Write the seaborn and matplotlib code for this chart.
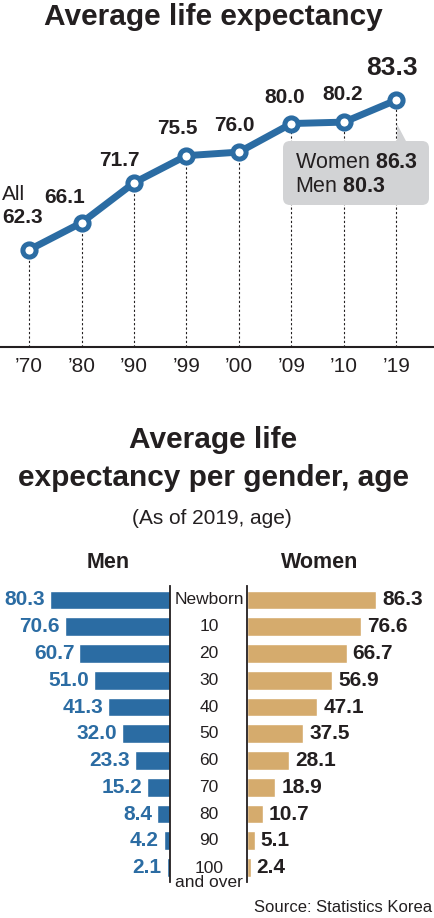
import numpy as np
import pandas as pd
import seaborn as sns
import matplotlib.pyplot as plt
from matplotlib.patches import FancyBboxPatch, Polygon

# ---------------- data ----------------
years = ["\u201970", "\u201980", "\u201990", "\u201999", "\u201900", "\u201909", "\u201910", "\u201919"]
life_all = [62.3, 66.1, 71.7, 75.5, 76.0, 80.0, 80.2, 83.3]
women_2019 = 86.3
men_2019 = 80.3

age_groups = ["Newborn", "10", "20", "30", "40", "50", "60", "70", "80", "90", "100\nand over"]
men = [80.3, 70.6, 60.7, 51.0, 41.3, 32.0, 23.3, 15.2, 8.4, 4.2, 2.1]
women = [86.3, 76.6, 66.7, 56.9, 47.1, 37.5, 28.1, 18.9, 10.7, 5.1, 2.4]

# ---------------- style ----------------
sns.set_theme(style="white")
FONT = ["Liberation Sans", "DejaVu Sans"]
plt.rcParams["font.family"] = FONT
plt.rcParams["mathtext.fontset"] = "custom"
plt.rcParams["mathtext.rm"] = "Liberation Sans"
plt.rcParams["mathtext.bf"] = "Liberation Sans:bold"

BLUE = "#2b6ca3"
TAN = "#d5ab6d"
DARK = "#231f20"
GRAY = "#d2d3d5"

W, H = 434, 918
fig = plt.figure(figsize=(W / 100, H / 100), dpi=100)
fig.patch.set_facecolor("white")


def px_axes(x0, y0, x1, y1, **kw):
    return fig.add_axes([x0 / W, 1 - y1 / H, (x1 - x0) / W, (y1 - y0) / H], **kw)


# ---------------- top line chart ----------------
ax = px_axes(0, 60, 434, 347)
df_line = pd.DataFrame({"idx": np.arange(len(years)), "life": life_all})
step = 52.5
ax.set_xlim(-29 / step, (434 - 29) / step)
ymin, ymax = 48.7, 88.9
ax.set_ylim(ymin, ymax)

ax.vlines(df_line["idx"], ymin, df_line["life"], colors=DARK, linewidth=0.8,
          linestyles=(0, (2, 2)), zorder=1)
sns.lineplot(data=df_line, x="idx", y="life", ax=ax, color=BLUE, linewidth=5,
             marker="o", markersize=9.5, markerfacecolor="white",
             markeredgecolor=BLUE, markeredgewidth=3.6, zorder=3)

ax.set_xticks(df_line["idx"])
ax.set_xticklabels(years, fontsize=15, color=DARK)
ax.tick_params(axis="x", length=0, pad=7)
ax.set_yticks([])
ax.set_xlabel("")
ax.set_ylabel("")
for s in ["top", "left", "right"]:
    ax.spines[s].set_visible(False)
ax.spines["bottom"].set_color(DARK)
ax.spines["bottom"].set_linewidth(1.5)
ax.patch.set_alpha(0)

offsets = [(-27, 32), (-17, 25), (-15, 22), (-9, 27), (-5, 27), (-7, 26), (-1, 28), (-5, 32)]
for i, (v, off) in enumerate(zip(life_all, offsets)):
    if i == 0:
        ax.annotate(f"{v:.1f}", (i, v), xytext=off, textcoords="offset pixels",
                    ha="left", va="center", fontsize=15, fontweight="bold", color=DARK)
        ax.annotate("All", (i, v), xytext=(off[0], off[1] + 23), textcoords="offset pixels",
                    ha="left", va="center", fontsize=15, color=DARK)
    else:
        ax.annotate(f"{v:.1f}", (i, v), xytext=off, textcoords="offset pixels",
                    ha="center", va="center", fontsize=19 if i == len(life_all) - 1 else 15,
                    fontweight="bold", color=DARK)

# ---------------- overlay (titles, callout) ----------------
ov = px_axes(0, 0, W, H)
ov.set_xlim(0, W)
ov.set_ylim(H, 0)
ov.axis("off")
ov.patch.set_alpha(0)

ov.text(213, 17, "Average life expectancy", ha="center", va="center",
        fontsize=21.5, fontweight="bold", color=DARK)

ov.add_patch(FancyBboxPatch((287, 145), 138, 56,
                            boxstyle="round,pad=4,rounding_size=7",
                            facecolor=GRAY, edgecolor="none", zorder=5))
ov.add_patch(Polygon([(397, 143), (397, 124), (407, 143)], closed=True,
                     facecolor=GRAY, edgecolor="none", zorder=5))
ov.text(295, 162, f"Women $\\mathbf{{{women_2019:.1f}}}$", ha="left", va="center",
        fontsize=15.5, color=DARK, zorder=6)
ov.text(295, 187, f"Men $\\mathbf{{{men_2019:.1f}}}$", ha="left", va="center",
        fontsize=15.5, color=DARK, zorder=6)

ov.text(213, 440, "Average life", ha="center", va="center",
        fontsize=21.5, fontweight="bold", color=DARK)
ov.text(213, 478, "expectancy per gender, age", ha="center", va="center",
        fontsize=21.5, fontweight="bold", color=DARK)
ov.text(212, 519, "(As of 2019, age)", ha="center", va="center",
        fontsize=15, color=DARK)
ov.text(108, 563, "Men", ha="center", va="center", fontsize=15.5,
        fontweight="bold", color=DARK)
ov.text(320, 563, "Women", ha="center", va="center", fontsize=15.5,
        fontweight="bold", color=DARK)
ov.text(432, 908, "Source: Statistics Korea", ha="right", va="center",
        fontsize=12, color=DARK)

# ---------------- bottom bar charts ----------------
df_bar = pd.DataFrame({"age": age_groups, "men": men, "women": women})
scale = 1.494  # px per year
ytop, ybot = -0.523, 10.54

axm = px_axes(0, 586, 170, 882)
sns.barplot(data=df_bar, x="men", y="age", orient="h", color=BLUE, saturation=1,
            width=0.7, errorbar=None, ax=axm)
axm.set_xlim(170 / scale, 0)
axm.set_ylim(ybot, ytop)

axw = px_axes(247, 586, 434, 882)
sns.barplot(data=df_bar, x="women", y="age", orient="h", color=TAN, saturation=1,
            width=0.7, errorbar=None, ax=axw)
axw.set_xlim(0, 187 / scale)
axw.set_ylim(ybot, ytop)

for a, keep in [(axm, "right"), (axw, "left")]:
    a.set_xticks([])
    a.set_yticks([])
    a.set_xlabel("")
    a.set_ylabel("")
    a.patch.set_alpha(0)
    for s in ["top", "bottom", "left", "right"]:
        a.spines[s].set_visible(s == keep)
    a.spines[keep].set_color(DARK)
    a.spines[keep].set_linewidth(1.3)

for i, (m, w, lab) in enumerate(zip(men, women, age_groups)):
    axm.annotate(f"{m:.1f}", (m, i), xytext=(-5, 0), textcoords="offset pixels",
                 ha="right", va="center", fontsize=15, fontweight="bold", color=BLUE)
    axw.annotate(f"{w:.1f}", (w, i), xytext=(6, 0), textcoords="offset pixels",
                 ha="left", va="center", fontsize=15, fontweight="bold", color=DARK)
    dy = -8 if "\n" in lab else 0
    axm.annotate(lab, xy=(209, i), xycoords=("figure pixels", "data"),
                 xytext=(0, dy), textcoords="offset pixels",
                 ha="center", va="center", fontsize=12.5, color=DARK, linespacing=0.95)

fig.savefig("out.png", dpi=100)
